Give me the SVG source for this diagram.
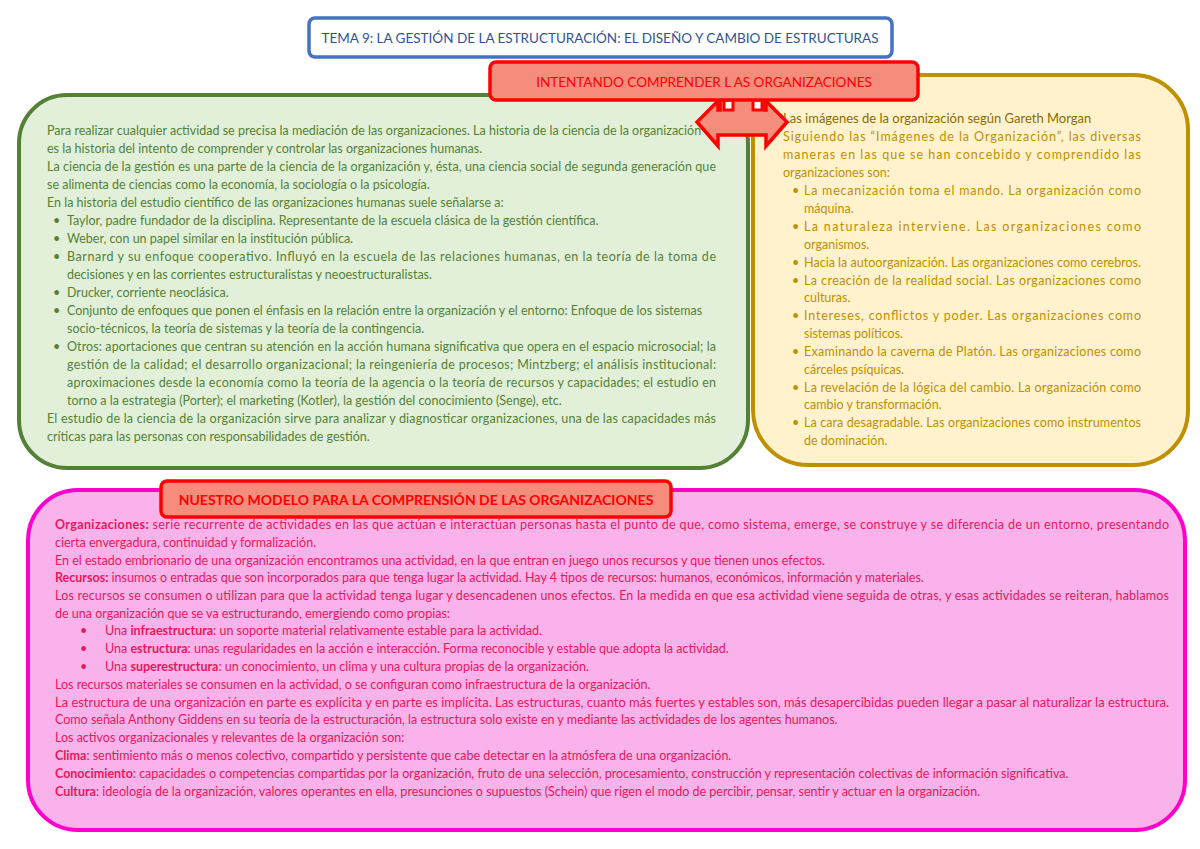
<svg xmlns="http://www.w3.org/2000/svg" width="1200" height="849" viewBox="0 0 1200 849">
<style>
text{font-family:Lato,"Liberation Sans",sans-serif;font-size:12.5px}
.g{fill:#548235}.y{fill:#bf9000}.p{fill:#e8175d}.b{font-weight:bold}
.hdr{fill:#f68c7c;stroke:#ff0000;stroke-width:3.5}
</style>
<rect width="1200" height="849" fill="#fff"/>
<g id="title"><rect x="309" y="18" width="583" height="39" rx="6" fill="#fff" stroke="#4472c4" stroke-width="3.5"/>
<text x="600" y="43" text-anchor="middle" style="font-size:13.5px" fill="#2f5496">TEMA 9: LA GESTIÓN DE LA ESTRUCTURACIÓN: EL DISEÑO Y CAMBIO DE ESTRUCTURAS</text></g>
<g id="green"><rect x="19" y="95" width="729" height="373" rx="48" fill="#e2efd9" stroke="#538135" stroke-width="4"/>
<g class="g">
<text x="47" y="135">Para realizar cualquier actividad se precisa la mediación de las organizaciones. La historia de la ciencia de la organización</text>
<text x="47" y="153">es la historia del intento de comprender y controlar las organizaciones humanas.</text>
<text x="47" y="171" textLength="669" lengthAdjust="spacing">La ciencia de la gestión es una parte de la ciencia de la organización y, ésta, una ciencia social de segunda generación que</text>
<text x="47" y="189">se alimenta de ciencias como la economía, la sociología o la psicología.</text>
<text x="47" y="207">En la historia del estudio científico de las organizaciones humanas suele señalarse a:</text>
<text x="53" y="225">•</text><text x="67" y="225">Taylor, padre fundador de la disciplina. Representante de la escuela clásica de la gestión científica.</text>
<text x="53" y="243">•</text><text x="67" y="243">Weber, con un papel similar en la institución pública.</text>
<text x="53" y="261">•</text><text x="67" y="261" textLength="649" lengthAdjust="spacing">Barnard y su enfoque cooperativo. Influyó en la escuela de las relaciones humanas, en la teoría de la toma de</text>
<text x="67" y="279">decisiones y en las corrientes estructuralistas y neoestructuralistas.</text>
<text x="53" y="297">•</text><text x="67" y="297">Drucker, corriente neoclásica.</text>
<text x="53" y="315">•</text><text x="67" y="315">Conjunto de enfoques que ponen el énfasis en la relación entre la organización y el entorno: Enfoque de los sistemas</text>
<text x="67" y="333">socio-técnicos, la teoría de sistemas y la teoría de la contingencia.</text>
<text x="53" y="351">•</text><text x="67" y="351" textLength="649" lengthAdjust="spacing">Otros: aportaciones que centran su atención en la acción humana significativa que opera en el espacio microsocial; la</text>
<text x="67" y="369" textLength="649" lengthAdjust="spacing">gestión de la calidad; el desarrollo organizacional; la reingeniería de procesos; Mintzberg; el análisis institucional:</text>
<text x="67" y="387" textLength="649" lengthAdjust="spacing">aproximaciones desde la economía como la teoría de la agencia o la teoría de recursos y capacidades; el estudio en</text>
<text x="67" y="405">torno a la estrategia (Porter); el marketing (Kotler), la gestión del conocimiento (Senge), etc.</text>
<text x="47" y="423" textLength="669" lengthAdjust="spacing">El estudio de la ciencia de la organización sirve para analizar y diagnosticar organizaciones, una de las capacidades más</text>
<text x="47" y="441">críticas para las personas con responsabilidades de gestión.</text>
</g></g>
<g id="yellow"><rect x="753" y="75" width="435" height="390" rx="55" fill="#fff2cc" stroke="#bf9000" stroke-width="4"/>
<g class="y">
<text x="783" y="123" fill="#8a6d00" style="font-size:13px">Las imágenes de la organización según Gareth Morgan</text>
<text x="783" y="141" textLength="358" lengthAdjust="spacing">Siguiendo las “Imágenes de la Organización”, las diversas</text>
<text x="783" y="159" textLength="358" lengthAdjust="spacing">maneras en las que se han concebido y comprendido las</text>
<text x="783" y="177">organizaciones son:</text>
<text x="792" y="195">•</text><text x="804" y="195" textLength="337" lengthAdjust="spacing">La mecanización toma el mando. La organización como</text>
<text x="804" y="213">máquina.</text>
<text x="792" y="231">•</text><text x="804" y="231" textLength="337" lengthAdjust="spacing">La naturaleza interviene. Las organizaciones como</text>
<text x="804" y="249">organismos.</text>
<text x="792" y="267">•</text><text x="804" y="267" textLength="337" lengthAdjust="spacingAndGlyphs">Hacia la autoorganización. Las organizaciones como cerebros.</text>
<text x="792" y="285">•</text><text x="804" y="285" textLength="337" lengthAdjust="spacing">La creación de la realidad social. Las organizaciones como</text>
<text x="804" y="302">culturas.</text>
<text x="792" y="320">•</text><text x="804" y="320" textLength="337" lengthAdjust="spacing">Intereses, conflictos y poder. Las organizaciones como</text>
<text x="804" y="338">sistemas políticos.</text>
<text x="792" y="356">•</text><text x="804" y="356" textLength="337" lengthAdjust="spacing">Examinando la caverna de Platón. Las organizaciones como</text>
<text x="804" y="374">cárceles psíquicas.</text>
<text x="792" y="392">•</text><text x="804" y="392" textLength="337" lengthAdjust="spacing">La revelación de la lógica del cambio. La organización como</text>
<text x="804" y="409">cambio y transformación.</text>
<text x="792" y="427">•</text><text x="804" y="427" textLength="337" lengthAdjust="spacing">La cara desagradable. Las organizaciones como instrumentos</text>
<text x="804" y="445">de dominación.</text>
</g></g>
<g id="connectors">
<path class="hdr" d="M720,90 H765 V110 H766 V101 L787,122 L766,146 V135 H718 V146 L697,122 L718,101 V110 H720 Z"/>
<rect x="724" y="100" width="9" height="10" fill="#fff" stroke="#ff0000" stroke-width="3"/>
<rect x="753" y="100" width="9" height="10" fill="#fff" stroke="#ff0000" stroke-width="3"/>
</g>
<g id="intentando"><rect class="hdr" x="490" y="62" width="428" height="38" rx="6"/>
<text x="704" y="87" text-anchor="middle" fill="#ff0000" style="font-size:13.5px">INTENTANDO COMPRENDER L AS ORGANIZACIONES</text></g>
<g id="pink"><rect x="28" y="490" width="1157" height="340" rx="50" fill="#f9b3ea" stroke="#ff00cc" stroke-width="4"/>
<g class="p">
<text x="55" y="529" textLength="1114" lengthAdjust="spacing"><tspan class="b">Organizaciones:</tspan> serie recurrente de actividades en las que actúan e interactúan personas hasta el punto de que, como sistema, emerge, se construye y se diferencia de un entorno, presentando</text>
<text x="55" y="547">cierta envergadura, continuidad y formalización.</text>
<text x="55" y="565">En el estado embrionario de una organización encontramos una actividad, en la que entran en juego unos recursos y que tienen unos efectos.</text>
<text x="55" y="582"><tspan class="b">Recursos:</tspan> insumos o entradas que son incorporados para que tenga lugar la actividad. Hay 4 tipos de recursos: humanos, económicos, información y materiales.</text>
<text x="55" y="600" textLength="1114" lengthAdjust="spacing">Los recursos se consumen o utilizan para que la actividad tenga lugar y desencadenen unos efectos. En la medida en que esa actividad viene seguida de otras, y esas actividades se reiteran, hablamos</text>
<text x="55" y="618">de una organización que se va estructurando, emergiendo como propias:</text>
<text x="80" y="635">•</text><text x="105" y="635">Una <tspan class="b">infraestructura</tspan>: un soporte material relativamente estable para la actividad.</text>
<text x="80" y="653">•</text><text x="105" y="653">Una <tspan class="b">estructura</tspan>: unas regularidades en la acción e interacción. Forma reconocible y estable que adopta la actividad.</text>
<text x="80" y="671">•</text><text x="105" y="671">Una <tspan class="b">superestructura</tspan>: un conocimiento, un clima y una cultura propias de la organización.</text>
<text x="55" y="689">Los recursos materiales se consumen en la actividad, o se configuran como infraestructura de la organización.</text>
<text x="55" y="707" textLength="1114" lengthAdjust="spacingAndGlyphs">La estructura de una organización en parte es explícita y en parte es implícita. Las estructuras, cuanto más fuertes y estables son, más desapercibidas pueden llegar a pasar al naturalizar la estructura.</text>
<text x="55" y="724">Como señala Anthony Giddens en su teoría de la estructuración, la estructura solo existe en y mediante las actividades de los agentes humanos.</text>
<text x="55" y="742">Los activos organizacionales y relevantes de la organización son:</text>
<text x="55" y="760"><tspan class="b">Clima</tspan>: sentimiento más o menos colectivo, compartido y persistente que cabe detectar en la atmósfera de una organización.</text>
<text x="55" y="778"><tspan class="b">Conocimiento</tspan>: capacidades o competencias compartidas por la organización, fruto de una selección, procesamiento, construcción y representación colectivas de información significativa.</text>
<text x="55" y="796"><tspan class="b">Cultura</tspan>: ideología de la organización, valores operantes en ella, presunciones o supuestos (Schein) que rigen el modo de percibir, pensar, sentir y actuar en la organización.</text>
</g></g>
<g id="nuestro"><rect class="hdr" x="161" y="481" width="510" height="36" rx="6"/>
<text x="416" y="505" text-anchor="middle" fill="#ff0000" class="b" style="font-size:14px">NUESTRO MODELO PARA LA COMPRENSIÓN DE LAS ORGANIZACIONES</text></g>
</svg>
